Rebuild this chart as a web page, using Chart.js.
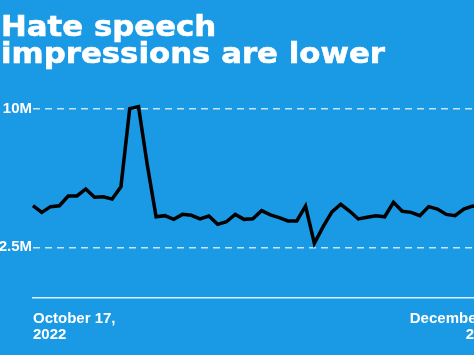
<!DOCTYPE html>
<html>
<head>
<meta charset="utf-8">
<script src="https://cdn.jsdelivr.net/npm/chart.js@4"></script>
<style>
  html, body { margin: 0; padding: 0; }
  body { width: 474px; height: 355px; overflow: hidden; background: #1a9ae4; position: relative; }
  #wrap { position: absolute; left: 0; top: 0; width: 512px; height: 355px; }
  #title {
    position: absolute; left: 1px; top: 13px; margin: 0;
    font-family: "DejaVu Sans", sans-serif; font-weight: bold; font-size: 28px; line-height: 27px;
    color: #ffffff; transform: scaleX(1.1); transform-origin: left top; white-space: nowrap;
    -webkit-text-stroke: 0.6px #ffffff;
  }
</style>
</head>
<body>
<div id="wrap"><canvas id="c" width="512" height="355"></canvas></div>
<h1 id="title">Hate speech<br>impressions are lower</h1>
<script>
// ---- data ----
const categories = [
  'Oct 17','Oct 18','Oct 19','Oct 20','Oct 21','Oct 22','Oct 23','Oct 24','Oct 25','Oct 26',
  'Oct 27','Oct 28','Oct 29','Oct 30','Oct 31','Nov 1','Nov 2','Nov 3','Nov 4','Nov 5',
  'Nov 6','Nov 7','Nov 8','Nov 9','Nov 10','Nov 11','Nov 12','Nov 13','Nov 14','Nov 15',
  'Nov 16','Nov 17','Nov 18','Nov 19','Nov 20','Nov 21','Nov 22','Nov 23','Nov 24','Nov 25',
  'Nov 26','Nov 27','Nov 28','Nov 29','Nov 30','Dec 1','Dec 2','Dec 3','Dec 4','Dec 5',
  'Dec 6','Dec 7','Dec 8','Dec 9'
];
// hate speech impressions, millions
const impressions = [
  4.76,4.40,4.71,4.76,5.29,5.29,5.67,5.22,5.25,5.12,
  5.79,10.03,10.14,6.97,4.16,4.22,4.02,4.29,4.24,4.04,
  4.20,3.75,3.89,4.29,4.02,4.05,4.49,4.26,4.11,3.93,
  3.93,4.74,2.72,3.62,4.43,4.84,4.47,4.04,4.13,4.22,
  4.16,4.95,4.46,4.40,4.22,4.71,4.58,4.29,4.22,4.58,
  4.74,4.60,4.50,4.40
];
const yTickValues = [2.5, 10];
const yTickLabels = ['2.5M', '10M'];
const firstTickLabel = ['October 17,', '2022'];
const lastTickLabel = ['December 9,', '2022'];

const white = '#ffffff';
const labelFont = { family: '"Liberation Sans", Arial, sans-serif', size: 15, weight: 'bold', lineHeight: 1.07 };

new Chart(document.getElementById('c'), {
  type: 'line',
  data: {
    labels: categories,
    datasets: [{
      data: impressions,
      borderColor: '#000000',
      borderWidth: 3.5,
      pointRadius: 0,
      pointHoverRadius: 0,
      tension: 0,
      fill: false,
      borderJoinStyle: 'miter',
      clip: false
    }]
  },
  options: {
    responsive: false,
    animation: false,
    devicePixelRatio: 1,
    layout: { padding: { top: 100, right: 0, bottom: 0, left: 0 } },
    plugins: { legend: { display: false }, tooltip: { enabled: false }, title: { display: false } },
    scales: {
      x: {
        grid: { display: false, drawTicks: false },
        border: { display: true, color: 'rgba(255,255,255,0.85)', width: 1.5 },
        ticks: {
          autoSkip: false, maxRotation: 0, minRotation: 0, align: 'inner',
          padding: 13, color: white, font: labelFont,
          callback: function (v, i, ticks) {
            if (i === 0) return firstTickLabel;
            if (i === ticks.length - 1) return lastTickLabel;
            return '';
          }
        },
        afterFit: function (s) { s.height = 57; }
      },
      y: {
        min: -0.25, max: 10.5,
        grid: { color: 'rgba(255,255,255,0.75)', lineWidth: 1.5, drawTicks: false },
        border: { display: false, dash: [7, 5] },
        afterBuildTicks: function (s) { s.ticks = yTickValues.map(v => ({ value: v })); },
        ticks: {
          padding: 1, color: white, font: labelFont,
          callback: function (v) { const k = yTickValues.indexOf(v); return k >= 0 ? yTickLabels[k] : ''; }
        },
        afterFit: function (s) { s.width = 33; }
      }
    }
  }
});
</script>
</body>
</html>
